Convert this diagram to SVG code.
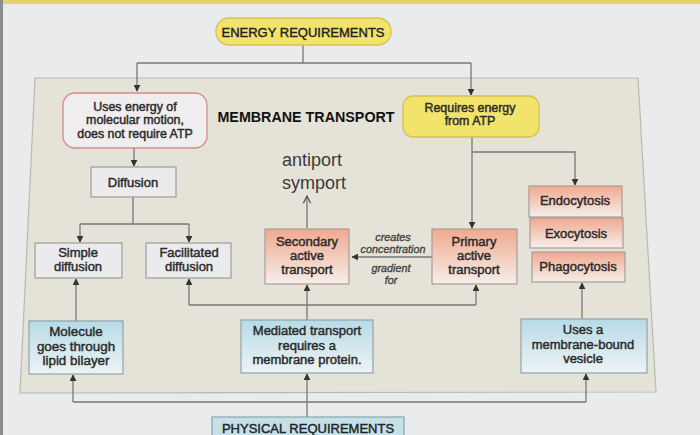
<svg xmlns="http://www.w3.org/2000/svg" width="700" height="435" viewBox="0 0 700 435">
<defs>
<linearGradient id="salmon" x1="0" y1="0" x2="0" y2="1"><stop offset="0" stop-color="#f1a98f"/><stop offset="1" stop-color="#f5eee9"/></linearGradient>
<linearGradient id="blue" x1="0" y1="0" x2="0" y2="1"><stop offset="0" stop-color="#b7dbe6"/><stop offset="1" stop-color="#edf3f5"/></linearGradient>
<marker id="ah" viewBox="0 0 10 10" refX="9" refY="5" markerWidth="7" markerHeight="7" markerUnits="userSpaceOnUse" orient="auto"><path d="M0,0 L10,5 L0,10 z" fill="#333"/></marker>
<marker id="open" viewBox="0 0 10 10" refX="9" refY="5" markerWidth="9" markerHeight="9" markerUnits="userSpaceOnUse" orient="auto"><path d="M1,1 L9,5 L1,9" fill="none" stroke="#555" stroke-width="1.4"/></marker>
</defs>
<style>
text{font-family:"Liberation Sans",Arial,sans-serif;text-anchor:middle;fill:#2b2b2b}
.t{font-size:13px;stroke:#2b2b2b;stroke-width:0.45px;paint-order:stroke}
.s{font-size:12.4px}
.cap{font-size:13px;fill:#222;stroke:#222;stroke-width:0.4px}
.it{font-size:10.8px;font-style:italic;fill:#444;stroke:#444;stroke-width:0.35px}
.big{font-size:18px;fill:#3a3a3a}
.grey{fill:#ebebee;stroke:#9c9c9c;stroke-width:1.2}
.sal{fill:url(#salmon);stroke:#a89c98;stroke-width:1.2}
.blu{fill:url(#blue);stroke:#8ea4ab;stroke-width:1.2}
.yel{fill:#f2e36c;stroke:#d6c24e;stroke-width:1.3}
.ln{fill:none;stroke:#777;stroke-width:1.3}
</style>
<rect x="0" y="0" width="700" height="435" fill="#e9ebed"/>
<rect x="0" y="0" width="700" height="4" fill="#e6d36a"/>
<rect x="0" y="0" width="3" height="435" fill="#8a8c8e"/>
<path d="M35,78 L638,78 L656,392 L20,393 Z" fill="#e5e3d7" stroke="#b9b9b2" stroke-width="1.2"/>
<text x="306" y="122" style="font-size:14.3px;font-weight:bold;fill:#111">MEMBRANE TRANSPORT</text>
<text class="big" x="312" y="166">antiport</text>
<text class="big" x="314" y="189">symport</text>
<g id="connectors">
<path class="ln" d="M303,45 V63 M137,63 H471"/>
<path class="ln" d="M137,63 V91" marker-end="url(#ah)"/>
<path class="ln" d="M471,63 V95" marker-end="url(#ah)"/>
<path class="ln" d="M134,148 V166" marker-end="url(#ah)"/>
<path class="ln" d="M133,197 V224 M80,224 H189"/>
<path class="ln" d="M80,224 V242" marker-end="url(#ah)"/>
<path class="ln" d="M189,224 V242" marker-end="url(#ah)"/>
<path class="ln" d="M472,137 V228" marker-end="url(#ah)"/>
<path class="ln" d="M472,152 H575 V185" marker-end="url(#ah)"/>
<path class="ln" d="M432,257 H352" marker-end="url(#ah)"/>
<path class="ln" d="M307,228 V196" marker-end="url(#open)"/>
<path class="ln" d="M76,321 V279" marker-end="url(#ah)"/>
<path class="ln" d="M307,320 V285" marker-end="url(#ah)"/>
<path class="ln" d="M189,305 H476"/>
<path class="ln" d="M189,305 V279" marker-end="url(#ah)"/>
<path class="ln" d="M476,305 V285" marker-end="url(#ah)"/>
<path class="ln" d="M582,319 V283" marker-end="url(#ah)"/>
<path class="ln" d="M307,417 V374" marker-end="url(#ah)"/>
<path class="ln" d="M73,402 H586"/>
<path class="ln" d="M73,402 V375" marker-end="url(#ah)"/>
<path class="ln" d="M586,402 V374" marker-end="url(#ah)"/>
</g>
<text class="it" x="393" y="241">creates</text>
<text class="it" x="393" y="253">concentration</text>
<text class="it" x="391" y="272">gradient</text>
<text class="it" x="391" y="284">for</text>
<g id="energy"><rect class="yel" x="216" y="18" width="175" height="27" rx="13"/><text class="cap" x="303" y="37">ENERGY REQUIREMENTS</text></g>
<g id="uses-energy"><rect x="63" y="93" width="144" height="55" rx="12" fill="#efeded" stroke="#d78a8a" stroke-width="1.3"/><text class="t s" x="135" y="110.5">Uses energy of</text><text class="t s" x="135" y="124">molecular motion,</text><text class="t s" x="135" y="137.5">does not require ATP</text></g>
<g id="requires-atp"><rect class="yel" x="403" y="96" width="136" height="41" rx="10"/><text class="t s" x="470" y="111.5">Requires energy</text><text class="t s" x="470" y="125">from ATP</text></g>
<g id="diffusion"><rect class="grey" x="91" y="167" width="85" height="30"/><text class="t" x="133" y="186.5">Diffusion</text></g>
<g id="simple"><rect class="grey" x="35" y="243" width="87" height="35"/><text class="t" x="78" y="257">Simple</text><text class="t" x="78" y="271">diffusion</text></g>
<g id="facilitated"><rect class="grey" x="146" y="243" width="85" height="35"/><text class="t" x="189" y="257">Facilitated</text><text class="t" x="189" y="271">diffusion</text></g>
<g id="secondary"><rect class="sal" x="265" y="229" width="84" height="55"/><text class="t" x="307" y="245.5">Secondary</text><text class="t" x="307" y="259.5">active</text><text class="t" x="307" y="273.5">transport</text></g>
<g id="primary"><rect class="sal" x="432" y="229" width="85" height="55"/><text class="t" x="474" y="245.5">Primary</text><text class="t" x="474" y="259.5">active</text><text class="t" x="474" y="273.5">transport</text></g>
<g id="endocytosis"><rect class="sal" x="529" y="186" width="93" height="31"/><text class="t" x="575" y="205">Endocytosis</text></g>
<g id="exocytosis"><rect class="sal" x="530" y="218" width="93" height="30"/><text class="t" x="576" y="237.5">Exocytosis</text></g>
<g id="phagocytosis"><rect class="sal" x="532" y="252" width="93" height="30"/><text class="t" x="578" y="271">Phagocytosis</text></g>
<g id="molecule"><rect class="blu" x="29" y="321" width="94" height="53"/><text class="t" x="76" y="336" style="font-size:13.4px">Molecule</text><text class="t" x="76" y="350.5" style="font-size:13.4px">goes through</text><text class="t" x="76" y="365" style="font-size:13.4px">lipid bilayer</text></g>
<g id="mediated"><rect class="blu" x="241" y="320" width="132" height="53"/><text class="t" x="307" y="335">Mediated transport</text><text class="t" x="307" y="349.5">requires a</text><text class="t" x="307" y="364">membrane protein.</text></g>
<g id="vesicle"><rect class="blu" x="521" y="319" width="126" height="54"/><text class="t" x="583" y="334">Uses a</text><text class="t" x="583" y="348.5">membrane-bound</text><text class="t" x="583" y="363">vesicle</text></g>
<g id="physical"><rect x="212" y="417" width="192" height="25" fill="#c4e0e9" stroke="#8ea4ab" stroke-width="1.2"/><text class="cap" x="308" y="433">PHYSICAL REQUIREMENTS</text></g>
</svg>
